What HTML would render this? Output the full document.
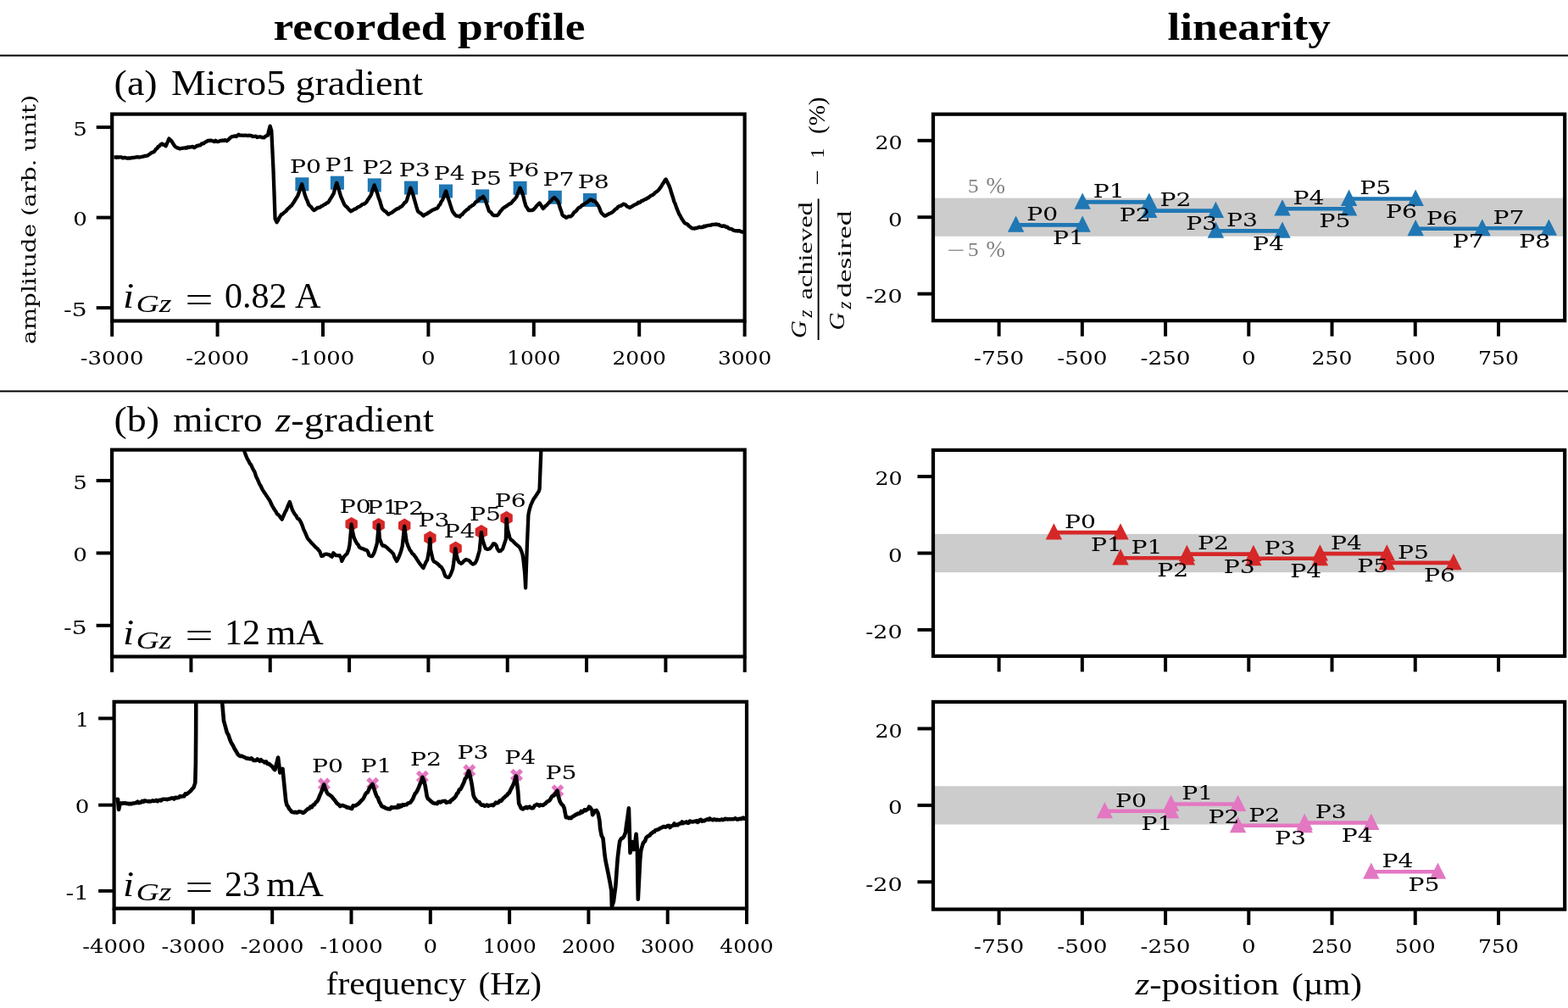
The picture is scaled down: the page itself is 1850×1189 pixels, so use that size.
<!DOCTYPE html>
<html><head><meta charset="utf-8"><title>figure</title><style>html,body{margin:0;padding:0;background:#fff;overflow:hidden;width:1850px;height:1189px;}svg{display:block;}</style></head><body>
<svg width="1850" height="1189" viewBox="0 0 1850 1189">
<rect width="1850" height="1189" fill="#fff"/>
<text x="322.60" y="46.50" font-family='"Liberation Serif", "DejaVu Serif", serif' font-size="47" font-weight="bold" textLength="368.00" lengthAdjust="spacingAndGlyphs">recorded profile</text>
<text x="1377.40" y="47.00" font-family='"Liberation Serif", "DejaVu Serif", serif' font-size="47" font-weight="bold" textLength="192.50" lengthAdjust="spacingAndGlyphs">linearity</text>
<line x1="0.00" y1="65.50" x2="1850.00" y2="65.50" stroke="#000" stroke-width="2.2" stroke-linecap="butt"/>
<line x1="0.00" y1="461.50" x2="1850.00" y2="461.50" stroke="#000" stroke-width="2.2" stroke-linecap="butt"/>
<text x="134.60" y="112.20" font-family='"Liberation Serif", "DejaVu Serif", serif' font-size="41.5" textLength="51.00" lengthAdjust="spacingAndGlyphs">(a)</text>
<text x="202.00" y="112.20" font-family='"Liberation Serif", "DejaVu Serif", serif' font-size="41.5" textLength="297.00" lengthAdjust="spacingAndGlyphs">Micro5 gradient</text>
<text x="134.60" y="509.30" font-family='"Liberation Serif", "DejaVu Serif", serif' font-size="41.5" textLength="53.50" lengthAdjust="spacingAndGlyphs">(b)</text>
<text x="204.20" y="509.30" font-family='"Liberation Serif", "DejaVu Serif", serif' font-size="41.5" textLength="105.50" lengthAdjust="spacingAndGlyphs">micro</text>
<text x="325.0" y="509.3" font-family='"Liberation Serif", "DejaVu Serif", serif' font-size="41.5" textLength="187.0" lengthAdjust="spacingAndGlyphs"><tspan font-style="italic">z</tspan>-gradient</text>
<rect x="132.20" y="134.60" width="746.40" height="243.90" fill="none" stroke="#000" stroke-width="4.2"/>
<line x1="113.70" y1="150.10" x2="132.20" y2="150.10" stroke="#000" stroke-width="4.0" stroke-linecap="butt"/>
<line x1="113.70" y1="256.60" x2="132.20" y2="256.60" stroke="#000" stroke-width="4.0" stroke-linecap="butt"/>
<line x1="113.70" y1="363.10" x2="132.20" y2="363.10" stroke="#000" stroke-width="4.0" stroke-linecap="butt"/>
<text x="86.20" y="159.90" font-family='"DejaVu Serif", "Liberation Serif", serif' font-size="22.0" textLength="16.60" lengthAdjust="spacingAndGlyphs">5</text>
<text x="86.20" y="266.40" font-family='"DejaVu Serif", "Liberation Serif", serif' font-size="22.0" textLength="16.60" lengthAdjust="spacingAndGlyphs">0</text>
<text x="74.90" y="372.90" font-family='"DejaVu Serif", "Liberation Serif", serif' font-size="22.0" textLength="27.90" lengthAdjust="spacingAndGlyphs">-5</text>
<line x1="132.20" y1="378.50" x2="132.20" y2="397.00" stroke="#000" stroke-width="4.0" stroke-linecap="butt"/>
<line x1="256.60" y1="378.50" x2="256.60" y2="397.00" stroke="#000" stroke-width="4.0" stroke-linecap="butt"/>
<line x1="381.00" y1="378.50" x2="381.00" y2="397.00" stroke="#000" stroke-width="4.0" stroke-linecap="butt"/>
<line x1="505.40" y1="378.50" x2="505.40" y2="397.00" stroke="#000" stroke-width="4.0" stroke-linecap="butt"/>
<line x1="629.80" y1="378.50" x2="629.80" y2="397.00" stroke="#000" stroke-width="4.0" stroke-linecap="butt"/>
<line x1="754.20" y1="378.50" x2="754.20" y2="397.00" stroke="#000" stroke-width="4.0" stroke-linecap="butt"/>
<line x1="878.60" y1="378.50" x2="878.60" y2="397.00" stroke="#000" stroke-width="4.0" stroke-linecap="butt"/>
<text x="94.85" y="430.00" font-family='"DejaVu Serif", "Liberation Serif", serif' font-size="22.0" textLength="74.70" lengthAdjust="spacingAndGlyphs">-3000</text>
<text x="219.25" y="430.00" font-family='"DejaVu Serif", "Liberation Serif", serif' font-size="22.0" textLength="74.70" lengthAdjust="spacingAndGlyphs">-2000</text>
<text x="343.65" y="430.00" font-family='"DejaVu Serif", "Liberation Serif", serif' font-size="22.0" textLength="74.70" lengthAdjust="spacingAndGlyphs">-1000</text>
<text x="497.10" y="430.00" font-family='"DejaVu Serif", "Liberation Serif", serif' font-size="22.0" textLength="16.60" lengthAdjust="spacingAndGlyphs">0</text>
<text x="598.10" y="430.00" font-family='"DejaVu Serif", "Liberation Serif", serif' font-size="22.0" textLength="63.40" lengthAdjust="spacingAndGlyphs">1000</text>
<text x="722.50" y="430.00" font-family='"DejaVu Serif", "Liberation Serif", serif' font-size="22.0" textLength="63.40" lengthAdjust="spacingAndGlyphs">2000</text>
<text x="846.90" y="430.00" font-family='"DejaVu Serif", "Liberation Serif", serif' font-size="22.0" textLength="63.40" lengthAdjust="spacingAndGlyphs">3000</text>
<rect x="1101.00" y="233.60" width="745.20" height="45.20" fill="#cccccc"/>
<rect x="1101.00" y="629.90" width="745.20" height="45.20" fill="#cccccc"/>
<rect x="1101.00" y="927.30" width="745.20" height="45.20" fill="#cccccc"/>
<rect x="348.40" y="209.30" width="16" height="16" fill="#1f77b4"/>
<rect x="389.90" y="207.70" width="16" height="16" fill="#1f77b4"/>
<rect x="433.80" y="210.40" width="16" height="16" fill="#1f77b4"/>
<rect x="477.00" y="213.60" width="16" height="16" fill="#1f77b4"/>
<rect x="518.00" y="217.50" width="16" height="16" fill="#1f77b4"/>
<rect x="561.20" y="223.40" width="16" height="16" fill="#1f77b4"/>
<rect x="605.60" y="213.80" width="16" height="16" fill="#1f77b4"/>
<rect x="646.80" y="224.80" width="16" height="16" fill="#1f77b4"/>
<rect x="688.00" y="228.00" width="16" height="16" fill="#1f77b4"/>
<clipPath id="cA"><rect x="132.2" y="134.6" width="746.4000000000001" height="243.9"/></clipPath>
<g clip-path="url(#cA)">
<polyline points="134.4,185.4 135.7,185.4 137.0,185.8 138.3,185.1 139.6,185.7 140.9,185.4 142.2,185.4 143.5,185.5 144.9,186.4 146.2,185.9 147.5,185.9 148.8,186.3 150.1,186.6 151.5,186.3 152.8,186.6 154.1,186.5 155.5,186.0 156.8,186.1 158.2,185.9 159.6,185.5 160.9,185.3 162.3,185.1 163.6,185.5 165.0,185.4 166.5,185.1 167.9,184.7 169.3,184.6 170.8,183.8 172.2,184.0 173.7,183.7 175.2,182.7 176.6,181.8 178.1,180.5 179.8,179.7 181.4,179.4 182.7,177.8 184.0,175.9 185.4,175.0 186.7,173.0 188.0,172.3 189.6,170.4 191.2,169.5 192.7,170.8 194.1,170.6 195.6,172.3 197.5,168.2 199.4,163.5 200.8,165.0 202.2,166.2 203.6,168.3 205.1,170.8 206.5,172.8 207.9,173.7 209.2,174.5 210.6,174.7 212.0,175.5 213.4,175.1 214.7,174.9 216.1,174.6 217.5,174.7 218.8,174.2 220.2,174.7 221.5,173.4 222.9,173.9 224.4,173.4 226.0,173.4 227.5,172.9 229.1,174.2 230.6,173.4 232.1,171.9 233.5,172.0 235.0,171.3 236.4,171.4 237.9,169.5 239.3,169.5 240.6,169.1 241.9,167.7 243.3,167.2 244.6,166.2 245.9,165.7 247.3,166.1 248.7,165.6 250.1,166.1 251.5,166.5 252.9,167.1 254.3,165.8 255.7,166.8 257.1,167.1 258.5,166.7 259.9,165.9 261.4,166.0 262.8,165.5 264.2,166.0 265.6,165.2 267.8,166.2 269.2,165.0 270.5,163.7 271.9,162.4 273.2,161.3 274.6,161.0 276.0,160.8 277.4,160.3 278.9,161.1 280.3,159.5 281.7,158.7 283.1,159.7 284.5,159.7 285.8,159.6 287.2,159.8 288.6,159.6 289.9,159.6 291.3,159.8 292.6,160.0 294.0,159.7 295.3,159.8 296.6,160.0 298.0,161.0 299.3,160.8 300.6,160.8 302.0,160.7 303.3,162.0 304.7,161.7 306.1,161.4 307.4,161.4 308.8,162.1 310.1,161.9 311.5,162.4 313.0,161.1 314.4,160.1 315.9,159.7 317.2,154.0 318.6,148.7 320.3,154.2 322.5,200.1 324.6,258.1 326.5,262.2 327.9,260.1 329.4,257.0 330.8,254.6 332.1,252.9 333.4,252.5 334.7,251.1 336.0,250.1 337.3,249.1 338.6,247.4 339.9,246.2 341.2,245.1 342.5,243.5 343.8,242.7 345.3,240.6 346.8,238.4 348.4,235.6 349.9,233.1 351.4,230.8 353.0,226.2 354.6,221.5 356.2,217.3 358.1,223.8 360.0,230.8 361.4,234.3 362.9,237.7 364.3,241.6 365.8,243.1 367.3,244.3 368.8,246.6 370.3,248.1 371.8,247.3 373.2,246.2 374.7,245.0 376.1,245.0 377.6,244.6 379.0,243.2 380.5,242.7 381.8,241.8 383.1,241.0 384.4,240.6 385.7,239.3 387.0,238.9 388.3,237.2 389.6,234.7 390.9,233.0 392.2,230.7 393.5,228.6 395.4,222.1 397.3,215.7 398.9,220.6 400.6,226.3 402.2,231.9 403.6,235.0 405.1,238.6 406.5,241.6 408.0,243.2 409.5,244.4 411.1,246.3 412.6,248.0 414.1,249.2 415.5,248.4 416.9,247.5 418.3,246.7 419.6,246.4 421.0,245.5 422.4,244.2 423.8,243.8 425.2,243.0 426.7,241.8 428.1,240.8 429.5,240.6 431.0,239.6 432.4,238.4 433.7,236.0 435.1,234.1 436.5,232.1 437.8,229.7 439.7,223.8 441.6,218.4 443.5,223.5 445.4,228.6 446.7,233.2 448.1,236.6 449.5,241.7 450.8,245.9 452.3,247.6 453.8,248.9 455.4,249.7 456.9,251.7 458.4,253.0 459.9,251.7 461.4,251.2 462.9,250.3 464.4,249.2 465.9,248.1 467.4,247.0 468.9,246.2 470.5,245.8 472.0,244.3 473.5,243.8 474.8,242.5 476.1,240.9 477.4,239.1 478.7,238.6 480.0,236.2 481.4,231.4 482.9,227.2 484.3,221.6 485.7,225.1 487.2,229.1 488.6,234.1 490.1,239.5 491.5,244.4 493.0,249.2 494.3,250.2 495.6,251.3 496.9,251.8 498.2,253.3 499.5,254.6 500.9,253.3 502.4,252.7 503.8,252.2 505.2,251.0 506.7,250.2 508.1,249.2 509.5,248.2 510.9,247.6 512.3,247.1 513.7,246.2 515.1,246.1 516.5,244.9 517.9,242.4 519.2,241.2 520.5,238.0 521.9,236.2 523.3,233.0 524.8,228.7 526.2,225.4 528.1,231.9 530.0,237.3 531.9,243.3 533.8,249.2 535.2,251.1 536.7,253.1 538.1,254.6 539.5,254.7 541.0,255.0 542.4,255.7 543.9,253.5 545.3,253.2 546.8,251.1 548.2,249.7 549.7,248.4 551.1,247.0 552.5,246.6 554.0,244.2 555.4,243.8 556.8,242.5 558.3,241.8 559.7,240.5 561.0,238.6 562.3,237.8 563.6,237.0 564.9,235.9 566.2,234.1 568.1,233.6 570.0,231.9 571.4,233.8 572.7,236.2 574.1,240.6 575.6,244.8 577.0,249.2 578.4,249.9 579.7,251.1 581.0,253.1 582.4,254.1 583.9,254.2 585.3,254.1 586.8,254.1 588.4,252.5 590.0,249.6 591.6,248.1 593.2,245.9 594.6,245.0 595.9,244.0 597.3,243.3 598.7,242.2 600.0,241.3 601.4,240.4 602.7,240.0 604.1,238.4 605.5,236.7 606.8,235.5 608.2,233.7 609.5,231.9 610.9,228.3 612.2,225.3 613.6,221.6 615.3,225.3 617.0,229.7 618.6,236.6 620.3,242.7 621.9,245.1 623.5,248.1 624.9,247.8 626.2,248.0 627.5,248.0 628.9,247.6 630.3,246.3 631.8,244.6 633.2,242.7 634.9,241.0 636.5,239.5 637.9,241.3 639.4,244.0 640.8,246.0 642.1,244.8 643.4,243.1 644.7,242.4 646.0,240.9 647.3,239.5 648.7,237.9 650.1,237.1 651.5,235.1 652.9,234.0 654.3,233.0 656.2,235.3 658.1,237.3 659.5,240.8 660.8,245.4 662.2,249.0 663.5,253.5 664.9,254.9 666.4,255.4 667.8,256.8 669.1,256.4 670.4,255.4 671.7,255.4 673.0,255.4 674.3,254.6 675.8,253.0 677.3,250.5 678.9,249.7 680.4,248.0 681.9,245.9 683.4,244.7 684.9,244.2 686.5,242.3 688.0,241.6 689.5,240.5 691.1,239.7 692.7,238.6 694.3,237.3 695.9,235.7 697.2,235.7 698.5,235.9 699.8,237.1 701.1,236.9 702.4,237.8 704.1,240.1 705.8,242.5 707.1,245.0 708.4,248.7 709.7,251.3 711.7,253.3 713.6,254.7 715.1,254.2 716.5,253.2 718.0,252.5 719.5,251.7 720.9,251.2 722.4,250.3 723.8,249.1 725.1,247.9 726.5,246.4 727.8,245.9 729.2,244.0 730.8,243.2 732.4,242.8 733.9,241.9 735.5,240.6 737.0,241.2 738.4,241.8 739.9,243.7 741.3,244.0 742.8,245.0 744.1,244.3 745.4,243.5 746.7,243.0 748.0,241.8 749.3,241.5 750.6,240.7 751.9,240.2 753.2,238.6 754.5,239.1 755.8,238.2 757.1,236.8 758.4,236.7 759.7,235.7 761.0,235.2 762.3,234.7 763.6,233.7 764.9,233.4 766.2,232.2 767.5,231.1 768.8,230.4 770.1,229.9 771.6,228.8 773.2,227.0 774.7,226.1 776.3,224.8 777.8,223.1 779.1,221.4 780.4,219.6 781.7,217.2 783.0,215.3 784.3,213.1 785.6,211.4 787.5,215.1 789.5,219.2 791.0,223.3 792.4,228.3 793.9,232.7 795.3,237.7 796.8,240.9 798.2,245.1 799.7,248.8 801.2,252.3 802.6,254.6 804.1,257.6 805.6,259.9 807.0,262.0 808.4,263.4 809.8,263.9 811.2,264.6 812.6,266.4 814.0,267.3 815.4,268.5 816.8,269.3 818.2,269.3 819.6,269.5 821.0,268.8 822.3,269.0 823.7,268.3 825.1,267.6 826.5,268.3 827.9,267.8 829.3,268.1 830.7,266.7 832.0,267.3 833.4,266.3 834.8,266.1 836.2,265.9 837.7,265.7 839.1,265.5 840.6,264.8 842.1,264.9 843.5,264.8 845.0,264.4 846.5,265.0 847.9,264.8 849.4,265.9 850.8,266.4 852.2,266.9 853.7,266.4 855.2,266.6 856.6,267.8 858.1,267.7 859.5,269.2 861.0,269.9 862.5,270.0 863.9,270.5 865.4,271.7 866.8,272.0 868.2,272.4 869.6,272.2 870.9,272.6 872.3,272.1 873.7,273.0 875.1,273.5 876.5,273.6 878.0,273.5" fill="none" stroke="#000" stroke-width="4.3" stroke-linejoin="round" stroke-linecap="butt"/>
</g>
<text x="342.10" y="203.50" font-family='"DejaVu Serif", "Liberation Serif", serif' font-size="21.8" textLength="37.00" lengthAdjust="spacingAndGlyphs">P0</text>
<text x="383.60" y="201.90" font-family='"DejaVu Serif", "Liberation Serif", serif' font-size="21.8" textLength="37.00" lengthAdjust="spacingAndGlyphs">P1</text>
<text x="427.50" y="204.60" font-family='"DejaVu Serif", "Liberation Serif", serif' font-size="21.8" textLength="37.00" lengthAdjust="spacingAndGlyphs">P2</text>
<text x="470.70" y="207.80" font-family='"DejaVu Serif", "Liberation Serif", serif' font-size="21.8" textLength="37.00" lengthAdjust="spacingAndGlyphs">P3</text>
<text x="511.70" y="211.70" font-family='"DejaVu Serif", "Liberation Serif", serif' font-size="21.8" textLength="37.00" lengthAdjust="spacingAndGlyphs">P4</text>
<text x="554.90" y="217.60" font-family='"DejaVu Serif", "Liberation Serif", serif' font-size="21.8" textLength="37.00" lengthAdjust="spacingAndGlyphs">P5</text>
<text x="599.30" y="208.00" font-family='"DejaVu Serif", "Liberation Serif", serif' font-size="21.8" textLength="37.00" lengthAdjust="spacingAndGlyphs">P6</text>
<text x="640.50" y="219.00" font-family='"DejaVu Serif", "Liberation Serif", serif' font-size="21.8" textLength="37.00" lengthAdjust="spacingAndGlyphs">P7</text>
<text x="681.70" y="222.20" font-family='"DejaVu Serif", "Liberation Serif", serif' font-size="21.8" textLength="37.00" lengthAdjust="spacingAndGlyphs">P8</text>
<polygon points="414.70,609.90 407.51,614.05 407.51,622.35 414.70,626.50 421.89,622.35 421.89,614.05" fill="#d62728"/>
<polygon points="446.70,610.90 439.51,615.05 439.51,623.35 446.70,627.50 453.89,623.35 453.89,615.05" fill="#d62728"/>
<polygon points="477.20,611.60 470.01,615.75 470.01,624.05 477.20,628.20 484.39,624.05 484.39,615.75" fill="#d62728"/>
<polygon points="507.40,626.30 500.21,630.45 500.21,638.75 507.40,642.90 514.59,638.75 514.59,630.45" fill="#d62728"/>
<polygon points="537.60,638.60 530.41,642.75 530.41,651.05 537.60,655.20 544.79,651.05 544.79,642.75" fill="#d62728"/>
<polygon points="567.90,619.00 560.71,623.15 560.71,631.45 567.90,635.60 575.09,631.45 575.09,623.15" fill="#d62728"/>
<polygon points="597.60,602.80 590.41,606.95 590.41,615.25 597.60,619.40 604.79,615.25 604.79,606.95" fill="#d62728"/>
<clipPath id="cB1"><rect x="132.1" y="530.6" width="746.6" height="243.89999999999998"/></clipPath>
<g clip-path="url(#cB1)">
<polyline points="286.5,520.0 288.1,531.6 289.7,536.1 291.8,541.2 293.2,543.5 294.7,546.7 296.2,548.3 297.7,551.7 299.1,554.4 300.6,557.0 302.0,561.7 303.5,564.7 304.9,567.8 306.3,571.2 307.8,573.5 309.3,576.8 310.9,579.5 312.3,581.6 313.8,583.7 315.4,586.1 316.8,588.3 318.3,590.5 319.7,593.5 321.1,596.5 322.5,598.9 324.1,601.5 325.4,603.3 326.8,606.1 328.3,607.1 329.8,608.7 331.2,610.8 332.7,612.6 334.0,609.5 335.3,606.6 336.6,603.6 337.9,601.5 339.2,597.9 340.5,595.0 341.8,592.0 343.4,596.7 345.0,601.6 347.0,605.2 348.2,607.0 349.6,608.7 351.0,611.6 352.5,612.0 353.9,614.2 355.1,616.2 356.7,619.9 358.1,624.1 359.3,626.6 360.7,629.7 362.4,633.9 363.7,636.0 365.0,637.4 366.5,639.1 368.1,641.1 369.6,642.6 371.2,644.2 372.7,645.8 374.3,646.9 375.8,648.9 377.1,650.1 379.3,656.0 381.1,655.7 383.0,653.8 384.5,653.6 386.0,653.6 387.5,654.3 388.9,654.5 390.3,656.1 391.8,656.7 393.3,652.3 394.7,653.6 396.3,655.2 397.8,655.1 399.3,655.3 400.7,655.2 402.4,658.2 403.3,661.9 405.8,656.7 407.7,654.8 409.5,653.0 411.4,648.1 412.5,642.7 414.7,618.5 415.9,626.3 417.6,633.9 419.2,637.7 421.3,641.3 422.6,642.5 424.0,645.5 425.7,646.4 427.1,647.2 428.7,647.3 430.2,648.4 431.8,648.7 433.1,649.4 434.5,651.8 435.4,654.9 437.2,656.0 439.2,656.0 440.8,653.3 441.9,650.8 444.8,641.2 445.8,630.7 446.7,619.2 447.3,627.0 447.9,635.3 450.7,642.7 452.0,643.9 453.6,643.6 455.1,644.9 456.7,646.0 458.3,647.8 459.8,649.0 461.2,650.3 462.5,651.6 464.1,653.4 465.5,657.4 466.8,659.5 468.1,661.9 469.8,658.8 471.3,655.2 473.2,649.9 474.7,644.2 477.2,620.7 478.3,629.7 479.9,639.8 481.4,643.8 483.5,648.6 484.8,650.1 486.4,653.0 487.9,653.9 489.4,656.0 490.9,658.1 492.3,660.3 493.8,662.6 495.2,664.7 496.6,666.5 498.0,668.3 499.4,670.0 501.1,666.4 502.8,662.6 504.2,660.4 506.3,648.1 507.4,635.4 508.0,648.3 510.8,660.4 512.2,662.5 514.1,663.4 515.9,664.8 517.4,666.0 519.0,667.8 520.5,668.6 521.8,670.7 523.2,673.2 524.2,676.5 525.5,679.7 527.7,681.0 529.5,681.1 531.0,678.9 532.1,676.6 534.1,671.3 535.1,664.8 537.3,647.1 538.4,654.0 540.2,660.4 541.7,663.3 543.9,664.8 545.5,663.9 546.8,662.2 548.3,661.1 549.8,660.0 551.3,660.5 552.8,660.9 554.2,661.9 556.0,664.3 557.9,665.5 560.2,664.5 561.8,662.1 563.0,658.9 565.7,649.5 566.8,638.4 567.9,628.0 569.4,636.6 571.8,644.2 573.0,647.1 574.8,647.9 576.4,647.7 577.8,647.2 579.2,645.7 580.6,643.9 581.9,641.5 583.6,641.3 585.7,643.6 586.7,647.3 588.8,650.1 590.5,649.9 592.0,648.5 593.2,647.1 596.8,636.2 597.2,623.2 597.6,611.8 598.7,623.8 601.3,633.9 602.5,636.2 603.9,637.3 605.6,638.6 607.2,640.5 608.7,641.8 610.3,643.2 611.8,644.4 613.1,645.7 615.3,650.4 616.6,654.6 617.5,660.4 619.2,676.5 620.1,693.5 621.9,642.7 623.4,607.4 624.5,601.9 626.3,595.6 627.6,592.9 629.1,589.5 630.8,587.1 632.6,584.3 634.2,581.8 635.6,579.8 636.6,576.5 638.8,520.0" fill="none" stroke="#000" stroke-width="4.3" stroke-linejoin="round" stroke-linecap="butt"/>
</g>
<text x="400.80" y="604.90" font-family='"DejaVu Serif", "Liberation Serif", serif' font-size="21.8" textLength="37.00" lengthAdjust="spacingAndGlyphs">P0</text>
<text x="432.80" y="605.90" font-family='"DejaVu Serif", "Liberation Serif", serif' font-size="21.8" textLength="37.00" lengthAdjust="spacingAndGlyphs">P1</text>
<text x="463.30" y="606.60" font-family='"DejaVu Serif", "Liberation Serif", serif' font-size="21.8" textLength="37.00" lengthAdjust="spacingAndGlyphs">P2</text>
<text x="493.50" y="621.30" font-family='"DejaVu Serif", "Liberation Serif", serif' font-size="21.8" textLength="37.00" lengthAdjust="spacingAndGlyphs">P3</text>
<text x="523.70" y="633.60" font-family='"DejaVu Serif", "Liberation Serif", serif' font-size="21.8" textLength="37.00" lengthAdjust="spacingAndGlyphs">P4</text>
<text x="554.00" y="614.00" font-family='"DejaVu Serif", "Liberation Serif", serif' font-size="21.8" textLength="37.00" lengthAdjust="spacingAndGlyphs">P5</text>
<text x="583.70" y="597.80" font-family='"DejaVu Serif", "Liberation Serif", serif' font-size="21.8" textLength="37.00" lengthAdjust="spacingAndGlyphs">P6</text>
<polygon points="386.17,917.36 389.94,921.13 386.17,924.90 389.94,928.67 386.17,932.44 382.40,928.67 378.63,932.44 374.86,928.67 378.63,924.90 374.86,921.13 378.63,917.36 382.40,921.13" fill="#e377c2"/>
<polygon points="443.47,916.76 447.24,920.53 443.47,924.30 447.24,928.07 443.47,931.84 439.70,928.07 435.93,931.84 432.16,928.07 435.93,924.30 432.16,920.53 435.93,916.76 439.70,920.53" fill="#e377c2"/>
<polygon points="502.17,908.66 505.94,912.43 502.17,916.20 505.94,919.97 502.17,923.74 498.40,919.97 494.63,923.74 490.86,919.97 494.63,916.20 490.86,912.43 494.63,908.66 498.40,912.43" fill="#e377c2"/>
<polygon points="557.57,901.36 561.34,905.13 557.57,908.90 561.34,912.67 557.57,916.44 553.80,912.67 550.03,916.44 546.26,912.67 550.03,908.90 546.26,905.13 550.03,901.36 553.80,905.13" fill="#e377c2"/>
<polygon points="613.27,906.76 617.04,910.53 613.27,914.30 617.04,918.07 613.27,921.84 609.50,918.07 605.73,921.84 601.96,918.07 605.73,914.30 601.96,910.53 605.73,906.76 609.50,910.53" fill="#e377c2"/>
<polygon points="661.67,925.16 665.44,928.93 661.67,932.70 665.44,936.47 661.67,940.24 657.90,936.47 654.13,940.24 650.36,936.47 654.13,932.70 650.36,928.93 654.13,925.16 657.90,928.93" fill="#e377c2"/>
<clipPath id="cB2"><rect x="134.6" y="827.8" width="746.4" height="243.79999999999995"/></clipPath>
<g clip-path="url(#cB2)">
<polyline points="136.5,943.0 139.0,942.8 140.1,955.0 141.6,948.2 142.7,947.4 144.0,947.7 145.4,947.3 146.9,947.5 148.3,947.3 149.7,947.9 151.1,947.7 152.5,948.4 153.9,947.9 155.3,948.2 156.7,947.5 158.1,947.5 159.5,947.1 160.9,947.0 162.3,945.6 163.7,947.1 165.0,946.6 166.4,946.4 167.8,944.8 169.2,945.7 170.6,944.4 172.0,944.9 173.4,945.0 174.7,945.4 176.1,945.1 177.5,945.4 178.9,944.9 180.3,944.3 181.7,944.8 183.1,944.7 184.4,943.8 185.8,945.2 187.2,944.2 188.6,943.7 190.0,944.3 191.4,943.0 192.8,942.7 194.2,942.8 195.6,942.8 197.0,943.1 198.4,942.5 199.8,942.5 201.2,941.9 202.6,941.4 204.0,941.5 205.3,942.4 206.7,940.8 208.1,941.1 209.6,940.9 211.1,940.7 212.5,939.1 214.0,939.6 215.4,939.1 217.1,939.3 218.7,936.3 220.3,936.7 222.0,935.3 223.6,934.1 225.1,932.8 226.9,930.4 228.5,928.9 230.3,923.4 230.9,900.7 231.2,862.9 231.4,800.0 232.7,800.3 234.1,800.0 235.4,799.0 236.8,800.5 238.1,800.4 239.5,800.6 240.8,800.9 242.2,800.2 243.5,800.1 244.9,799.2 246.2,800.4 247.5,799.6 248.9,799.7 250.2,799.2 251.6,799.4 252.9,799.7 254.3,800.8 255.6,798.7 257.0,799.1 258.3,800.2 259.7,800.9 261.0,800.0 261.9,825.5 264.0,850.2 265.6,856.0 267.8,864.1 269.5,867.0 271.5,873.0 273.1,876.6 274.8,879.2 276.6,883.0 278.3,885.7 280.4,889.4 281.9,891.1 283.6,891.9 285.4,891.9 286.8,892.5 288.1,893.1 289.5,893.7 290.9,894.8 292.3,894.6 293.7,894.9 295.2,895.3 296.6,894.3 298.0,895.7 299.4,896.9 300.8,896.9 302.2,896.9 303.7,895.5 305.1,896.6 306.5,897.8 307.9,896.3 309.3,897.7 310.7,898.2 312.3,899.4 313.9,898.4 315.5,901.0 317.0,900.7 318.6,902.2 320.0,903.2 321.5,904.7 322.9,906.7 324.3,908.1 326.2,901.2 328.1,893.5 330.3,911.4 331.9,909.3 333.5,907.0 335.1,923.2 337.3,944.9 338.3,949.1 339.7,951.2 341.6,954.6 342.7,955.6 344.0,957.6 345.4,957.9 347.0,958.4 348.3,957.8 349.7,958.6 351.0,958.4 352.4,957.3 354.1,957.5 355.7,957.7 357.3,958.9 359.0,958.1 360.4,956.8 361.8,955.2 363.2,954.1 364.7,954.0 366.3,951.6 367.9,952.2 369.4,949.5 370.8,949.2 372.4,946.8 373.8,945.6 375.1,943.7 376.2,941.2 377.3,938.4 379.1,934.4 380.7,929.9 382.2,925.4 383.7,930.5 385.9,935.1 387.1,936.7 388.5,937.3 390.0,938.6 391.4,939.5 392.9,941.6 394.3,943.1 395.7,944.9 397.0,947.0 398.4,948.3 400.0,949.2 401.2,951.0 402.5,950.3 403.8,950.0 405.2,950.3 406.5,950.8 407.9,951.3 409.3,952.5 410.7,952.3 412.1,953.1 413.5,953.0 415.1,953.9 416.6,950.4 418.1,950.5 419.5,950.3 421.1,949.3 422.7,948.2 424.2,946.8 425.7,945.0 427.0,943.8 428.5,942.2 429.8,939.7 431.1,937.0 432.4,935.1 433.8,934.6 435.2,931.2 436.6,928.6 438.1,926.9 439.5,924.9 441.3,930.4 443.2,936.2 444.5,939.5 445.9,941.1 447.6,946.0 448.8,947.8 450.2,950.8 451.9,951.9 453.2,951.9 454.7,953.2 456.2,953.5 457.6,954.2 459.0,954.1 460.4,954.4 461.8,952.1 463.2,952.7 464.6,952.5 466.0,952.4 467.3,952.5 468.7,952.6 470.0,949.8 471.3,952.0 472.6,950.0 474.0,951.0 475.3,949.2 476.5,949.8 477.8,949.2 479.4,949.3 481.1,947.7 482.6,947.1 484.1,946.6 485.4,944.9 487.2,942.3 488.4,939.1 489.7,936.2 491.2,934.7 492.7,931.9 494.1,928.6 495.7,924.5 497.0,922.5 498.4,916.8 500.1,920.9 501.6,926.5 503.8,939.5 504.9,942.1 506.4,943.2 508.1,944.9 509.5,946.0 511.0,947.3 512.6,947.6 514.3,947.8 515.6,948.1 516.9,946.2 518.2,945.7 519.5,946.5 520.8,945.7 522.2,945.0 523.7,945.0 525.2,944.9 526.6,946.8 528.1,946.4 529.5,945.7 531.0,946.1 532.3,943.8 533.7,943.5 534.9,941.8 536.0,941.4 537.7,939.2 539.2,935.9 540.5,935.0 541.8,931.5 543.2,931.1 544.5,928.8 545.7,926.2 547.4,922.8 548.9,918.3 550.3,917.2 551.7,912.8 553.2,909.5 554.9,916.4 556.5,924.1 558.6,938.1 559.6,940.5 560.9,942.5 562.4,945.0 564.1,945.7 565.5,946.2 567.1,948.7 568.7,949.8 570.5,949.5 571.9,950.7 573.3,949.9 574.7,949.6 576.1,950.7 577.5,950.0 578.9,949.8 580.3,949.5 581.9,950.1 583.4,948.6 584.9,946.7 586.4,947.3 587.8,946.8 589.5,944.5 591.0,945.0 592.5,943.3 594.0,941.3 595.4,940.3 596.8,938.9 598.2,938.0 599.5,936.0 600.8,935.2 601.9,932.7 603.6,929.4 605.1,926.7 606.4,923.4 607.6,919.9 608.9,915.4 611.1,932.7 612.2,947.8 613.3,950.0 614.8,953.4 617.0,954.3 618.3,953.1 619.6,953.2 620.9,951.9 622.2,953.2 623.5,952.2 624.9,951.6 626.3,952.9 627.6,953.2 628.9,953.2 631.1,950.0 632.3,949.5 633.6,948.9 635.0,949.4 636.4,950.5 637.8,949.4 639.2,949.8 640.6,949.9 641.9,948.9 643.6,947.8 645.2,945.9 646.7,945.0 648.1,944.6 649.5,942.4 650.9,939.8 652.3,938.9 653.6,938.3 655.0,936.5 656.3,934.3 657.6,932.7 658.9,939.8 660.8,945.7 662.4,948.4 664.2,949.9 665.7,953.2 667.8,964.1 669.3,963.9 671.1,965.1 672.5,964.5 673.9,965.1 675.2,963.6 676.6,962.8 677.9,962.1 679.1,960.9 680.4,961.0 681.7,959.6 683.0,959.7 684.4,959.3 685.7,956.9 687.1,958.0 688.4,956.7 689.8,955.1 691.1,956.2 692.5,954.8 693.8,954.3 695.1,951.7 696.5,952.7 698.5,955.7 699.1,961.1 700.5,959.1 701.8,956.5 703.7,955.9 705.6,959.1 707.4,968.2 708.1,977.0 709.6,985.2 711.5,989.1 713.5,1008.7 714.7,1016.3 716.1,1023.0 718.0,1032.3 719.9,1042.1 721.3,1050.4 721.9,1069.3 723.9,1063.4 726.4,1044.4 727.8,1024.3 728.8,1011.5 730.4,998.2 731.3,992.1 733.0,989.1 734.7,988.4 736.3,986.5 738.1,981.7 738.9,974.8 740.5,963.8 741.9,953.2 743.5,1006.0 744.8,999.2 746.1,993.0 748.0,1002.1 749.3,994.3 750.6,983.9 751.9,1002.1 752.8,1060.8 755.2,1013.9 756.2,1003.5 758.4,995.6 759.5,993.4 760.9,992.4 762.5,988.0 764.3,986.5 765.5,985.8 766.7,985.4 768.0,983.1 769.4,982.6 770.8,981.3 772.0,981.1 773.3,979.2 774.6,979.0 775.9,978.6 777.2,978.3 778.6,977.1 779.9,976.5 781.3,976.1 782.6,975.0 783.8,975.1 785.1,975.7 786.4,974.9 787.8,974.1 789.1,973.9 790.4,976.0 791.7,974.7 793.0,974.2 794.3,973.5 795.6,971.5 796.9,973.3 798.2,972.8 799.5,973.2 800.8,972.0 802.1,971.4 803.4,971.4 804.7,969.5 806.0,971.1 807.3,970.2 808.6,970.2 809.9,969.4 811.2,970.6 812.5,970.7 813.8,968.6 815.2,968.9 816.5,969.5 817.8,969.3 819.1,968.8 820.4,968.9 821.7,968.1 823.0,969.9 824.3,969.0 825.6,967.3 826.9,966.9 828.2,968.7 829.5,968.0 830.8,968.4 832.1,967.5 833.4,966.9 834.7,966.3 836.0,967.0 837.3,965.4 838.6,966.3 839.9,966.8 841.3,967.2 842.6,966.4 843.9,966.8 845.2,967.2 846.5,966.9 847.8,967.1 849.1,967.2 850.4,966.9 851.7,966.5 853.0,967.1 854.3,966.6 855.6,965.9 856.9,966.0 858.2,966.4 859.5,966.3 860.8,966.2 862.2,966.3 863.5,966.2 864.9,966.2 866.2,966.0 867.6,965.2 868.9,966.2 870.2,966.6 871.6,966.2 872.9,965.7 874.3,966.1 875.6,965.1 877.0,964.5 878.3,965.7 879.7,965.0 881.0,965.6" fill="none" stroke="#000" stroke-width="4.6" stroke-linejoin="round" stroke-linecap="butt"/>
</g>
<text x="368.10" y="911.40" font-family='"DejaVu Serif", "Liberation Serif", serif' font-size="21.8" textLength="37.00" lengthAdjust="spacingAndGlyphs">P0</text>
<text x="425.40" y="910.80" font-family='"DejaVu Serif", "Liberation Serif", serif' font-size="21.8" textLength="37.00" lengthAdjust="spacingAndGlyphs">P1</text>
<text x="484.10" y="902.70" font-family='"DejaVu Serif", "Liberation Serif", serif' font-size="21.8" textLength="37.00" lengthAdjust="spacingAndGlyphs">P2</text>
<text x="539.50" y="895.40" font-family='"DejaVu Serif", "Liberation Serif", serif' font-size="21.8" textLength="37.00" lengthAdjust="spacingAndGlyphs">P3</text>
<text x="595.20" y="900.80" font-family='"DejaVu Serif", "Liberation Serif", serif' font-size="21.8" textLength="37.00" lengthAdjust="spacingAndGlyphs">P4</text>
<text x="643.60" y="919.20" font-family='"DejaVu Serif", "Liberation Serif", serif' font-size="21.8" textLength="37.00" lengthAdjust="spacingAndGlyphs">P5</text>
<line x1="1198.60" y1="265.40" x2="1277.20" y2="265.40" stroke="#1f77b4" stroke-width="4.6" stroke-linecap="butt"/>
<polygon points="1198.60,254.50 1188.90,273.80 1208.30,273.80" fill="#1f77b4"/>
<polygon points="1277.20,254.50 1267.50,273.80 1286.90,273.80" fill="#1f77b4"/>
<line x1="1277.20" y1="238.40" x2="1355.80" y2="238.40" stroke="#1f77b4" stroke-width="4.6" stroke-linecap="butt"/>
<polygon points="1277.20,227.50 1267.50,246.80 1286.90,246.80" fill="#1f77b4"/>
<polygon points="1355.80,227.50 1346.10,246.80 1365.50,246.80" fill="#1f77b4"/>
<line x1="1355.80" y1="248.60" x2="1434.40" y2="248.60" stroke="#1f77b4" stroke-width="4.6" stroke-linecap="butt"/>
<polygon points="1355.80,237.70 1346.10,257.00 1365.50,257.00" fill="#1f77b4"/>
<polygon points="1434.40,237.70 1424.70,257.00 1444.10,257.00" fill="#1f77b4"/>
<line x1="1434.40" y1="272.40" x2="1513.00" y2="272.40" stroke="#1f77b4" stroke-width="4.6" stroke-linecap="butt"/>
<polygon points="1434.40,261.50 1424.70,280.80 1444.10,280.80" fill="#1f77b4"/>
<polygon points="1513.00,261.50 1503.30,280.80 1522.70,280.80" fill="#1f77b4"/>
<line x1="1513.00" y1="246.20" x2="1591.60" y2="246.20" stroke="#1f77b4" stroke-width="4.6" stroke-linecap="butt"/>
<polygon points="1513.00,235.30 1503.30,254.60 1522.70,254.60" fill="#1f77b4"/>
<polygon points="1591.60,235.30 1581.90,254.60 1601.30,254.60" fill="#1f77b4"/>
<line x1="1591.60" y1="234.50" x2="1670.20" y2="234.50" stroke="#1f77b4" stroke-width="4.6" stroke-linecap="butt"/>
<polygon points="1591.60,223.60 1581.90,242.90 1601.30,242.90" fill="#1f77b4"/>
<polygon points="1670.20,223.60 1660.50,242.90 1679.90,242.90" fill="#1f77b4"/>
<line x1="1670.20" y1="269.80" x2="1748.80" y2="269.80" stroke="#1f77b4" stroke-width="4.6" stroke-linecap="butt"/>
<polygon points="1670.20,258.90 1660.50,278.20 1679.90,278.20" fill="#1f77b4"/>
<polygon points="1748.80,258.90 1739.10,278.20 1758.50,278.20" fill="#1f77b4"/>
<line x1="1748.80" y1="269.30" x2="1827.40" y2="269.30" stroke="#1f77b4" stroke-width="4.6" stroke-linecap="butt"/>
<polygon points="1748.80,258.40 1739.10,277.70 1758.50,277.70" fill="#1f77b4"/>
<polygon points="1827.40,258.40 1817.70,277.70 1837.10,277.70" fill="#1f77b4"/>
<text x="1211.20" y="260.10" font-family='"DejaVu Serif", "Liberation Serif", serif' font-size="21.8" textLength="37.00" lengthAdjust="spacingAndGlyphs">P0</text>
<text x="1242.10" y="287.60" font-family='"DejaVu Serif", "Liberation Serif", serif' font-size="21.8" textLength="37.00" lengthAdjust="spacingAndGlyphs">P1</text>
<text x="1289.80" y="233.10" font-family='"DejaVu Serif", "Liberation Serif", serif' font-size="21.8" textLength="37.00" lengthAdjust="spacingAndGlyphs">P1</text>
<text x="1320.70" y="260.60" font-family='"DejaVu Serif", "Liberation Serif", serif' font-size="21.8" textLength="37.00" lengthAdjust="spacingAndGlyphs">P2</text>
<text x="1368.40" y="243.30" font-family='"DejaVu Serif", "Liberation Serif", serif' font-size="21.8" textLength="37.00" lengthAdjust="spacingAndGlyphs">P2</text>
<text x="1399.30" y="270.80" font-family='"DejaVu Serif", "Liberation Serif", serif' font-size="21.8" textLength="37.00" lengthAdjust="spacingAndGlyphs">P3</text>
<text x="1447.00" y="267.10" font-family='"DejaVu Serif", "Liberation Serif", serif' font-size="21.8" textLength="37.00" lengthAdjust="spacingAndGlyphs">P3</text>
<text x="1477.90" y="294.60" font-family='"DejaVu Serif", "Liberation Serif", serif' font-size="21.8" textLength="37.00" lengthAdjust="spacingAndGlyphs">P4</text>
<text x="1525.60" y="240.90" font-family='"DejaVu Serif", "Liberation Serif", serif' font-size="21.8" textLength="37.00" lengthAdjust="spacingAndGlyphs">P4</text>
<text x="1556.50" y="268.40" font-family='"DejaVu Serif", "Liberation Serif", serif' font-size="21.8" textLength="37.00" lengthAdjust="spacingAndGlyphs">P5</text>
<text x="1604.20" y="229.20" font-family='"DejaVu Serif", "Liberation Serif", serif' font-size="21.8" textLength="37.00" lengthAdjust="spacingAndGlyphs">P5</text>
<text x="1635.10" y="256.70" font-family='"DejaVu Serif", "Liberation Serif", serif' font-size="21.8" textLength="37.00" lengthAdjust="spacingAndGlyphs">P6</text>
<text x="1682.80" y="264.50" font-family='"DejaVu Serif", "Liberation Serif", serif' font-size="21.8" textLength="37.00" lengthAdjust="spacingAndGlyphs">P6</text>
<text x="1713.70" y="292.00" font-family='"DejaVu Serif", "Liberation Serif", serif' font-size="21.8" textLength="37.00" lengthAdjust="spacingAndGlyphs">P7</text>
<text x="1761.40" y="264.00" font-family='"DejaVu Serif", "Liberation Serif", serif' font-size="21.8" textLength="37.00" lengthAdjust="spacingAndGlyphs">P7</text>
<text x="1792.30" y="291.50" font-family='"DejaVu Serif", "Liberation Serif", serif' font-size="21.8" textLength="37.00" lengthAdjust="spacingAndGlyphs">P8</text>
<line x1="1243.40" y1="628.10" x2="1322.00" y2="628.10" stroke="#d62728" stroke-width="4.6" stroke-linecap="butt"/>
<polygon points="1243.40,617.20 1233.70,636.50 1253.10,636.50" fill="#d62728"/>
<polygon points="1322.00,617.20 1312.30,636.50 1331.70,636.50" fill="#d62728"/>
<line x1="1322.00" y1="658.20" x2="1400.40" y2="658.20" stroke="#d62728" stroke-width="4.6" stroke-linecap="butt"/>
<polygon points="1322.00,647.30 1312.30,666.60 1331.70,666.60" fill="#d62728"/>
<polygon points="1400.40,647.30 1390.70,666.60 1410.10,666.60" fill="#d62728"/>
<line x1="1400.40" y1="653.60" x2="1478.90" y2="653.60" stroke="#d62728" stroke-width="4.6" stroke-linecap="butt"/>
<polygon points="1400.40,642.70 1390.70,662.00 1410.10,662.00" fill="#d62728"/>
<polygon points="1478.90,642.70 1469.20,662.00 1488.60,662.00" fill="#d62728"/>
<line x1="1478.90" y1="658.80" x2="1557.40" y2="658.80" stroke="#d62728" stroke-width="4.6" stroke-linecap="butt"/>
<polygon points="1478.90,647.90 1469.20,667.20 1488.60,667.20" fill="#d62728"/>
<polygon points="1557.40,647.90 1547.70,667.20 1567.10,667.20" fill="#d62728"/>
<line x1="1557.40" y1="653.10" x2="1636.30" y2="653.10" stroke="#d62728" stroke-width="4.6" stroke-linecap="butt"/>
<polygon points="1557.40,642.20 1547.70,661.50 1567.10,661.50" fill="#d62728"/>
<polygon points="1636.30,642.20 1626.60,661.50 1646.00,661.50" fill="#d62728"/>
<line x1="1636.30" y1="663.90" x2="1715.00" y2="663.90" stroke="#d62728" stroke-width="4.6" stroke-linecap="butt"/>
<polygon points="1636.30,653.00 1626.60,672.30 1646.00,672.30" fill="#d62728"/>
<polygon points="1715.00,653.00 1705.30,672.30 1724.70,672.30" fill="#d62728"/>
<text x="1256.00" y="622.80" font-family='"DejaVu Serif", "Liberation Serif", serif' font-size="21.8" textLength="37.00" lengthAdjust="spacingAndGlyphs">P0</text>
<text x="1286.90" y="650.30" font-family='"DejaVu Serif", "Liberation Serif", serif' font-size="21.8" textLength="37.00" lengthAdjust="spacingAndGlyphs">P1</text>
<text x="1334.60" y="652.90" font-family='"DejaVu Serif", "Liberation Serif", serif' font-size="21.8" textLength="37.00" lengthAdjust="spacingAndGlyphs">P1</text>
<text x="1365.30" y="680.40" font-family='"DejaVu Serif", "Liberation Serif", serif' font-size="21.8" textLength="37.00" lengthAdjust="spacingAndGlyphs">P2</text>
<text x="1413.00" y="648.30" font-family='"DejaVu Serif", "Liberation Serif", serif' font-size="21.8" textLength="37.00" lengthAdjust="spacingAndGlyphs">P2</text>
<text x="1443.80" y="675.80" font-family='"DejaVu Serif", "Liberation Serif", serif' font-size="21.8" textLength="37.00" lengthAdjust="spacingAndGlyphs">P3</text>
<text x="1491.50" y="653.50" font-family='"DejaVu Serif", "Liberation Serif", serif' font-size="21.8" textLength="37.00" lengthAdjust="spacingAndGlyphs">P3</text>
<text x="1522.30" y="681.00" font-family='"DejaVu Serif", "Liberation Serif", serif' font-size="21.8" textLength="37.00" lengthAdjust="spacingAndGlyphs">P4</text>
<text x="1570.00" y="647.80" font-family='"DejaVu Serif", "Liberation Serif", serif' font-size="21.8" textLength="37.00" lengthAdjust="spacingAndGlyphs">P4</text>
<text x="1601.20" y="675.30" font-family='"DejaVu Serif", "Liberation Serif", serif' font-size="21.8" textLength="37.00" lengthAdjust="spacingAndGlyphs">P5</text>
<text x="1648.90" y="658.60" font-family='"DejaVu Serif", "Liberation Serif", serif' font-size="21.8" textLength="37.00" lengthAdjust="spacingAndGlyphs">P5</text>
<text x="1679.90" y="686.10" font-family='"DejaVu Serif", "Liberation Serif", serif' font-size="21.8" textLength="37.00" lengthAdjust="spacingAndGlyphs">P6</text>
<line x1="1303.40" y1="956.80" x2="1381.60" y2="956.80" stroke="#e377c2" stroke-width="4.6" stroke-linecap="butt"/>
<polygon points="1303.40,945.90 1293.70,965.20 1313.10,965.20" fill="#e377c2"/>
<polygon points="1381.60,945.90 1371.90,965.20 1391.30,965.20" fill="#e377c2"/>
<line x1="1381.60" y1="948.50" x2="1460.60" y2="948.50" stroke="#e377c2" stroke-width="4.6" stroke-linecap="butt"/>
<polygon points="1381.60,937.60 1371.90,956.90 1391.30,956.90" fill="#e377c2"/>
<polygon points="1460.60,937.60 1450.90,956.90 1470.30,956.90" fill="#e377c2"/>
<line x1="1460.60" y1="973.80" x2="1539.20" y2="973.80" stroke="#e377c2" stroke-width="4.6" stroke-linecap="butt"/>
<polygon points="1460.60,962.90 1450.90,982.20 1470.30,982.20" fill="#e377c2"/>
<polygon points="1539.20,962.90 1529.50,982.20 1548.90,982.20" fill="#e377c2"/>
<line x1="1539.20" y1="970.50" x2="1617.80" y2="970.50" stroke="#e377c2" stroke-width="4.6" stroke-linecap="butt"/>
<polygon points="1539.20,959.60 1529.50,978.90 1548.90,978.90" fill="#e377c2"/>
<polygon points="1617.80,959.60 1608.10,978.90 1627.50,978.90" fill="#e377c2"/>
<line x1="1617.80" y1="1028.30" x2="1696.50" y2="1028.30" stroke="#e377c2" stroke-width="4.6" stroke-linecap="butt"/>
<polygon points="1617.80,1017.40 1608.10,1036.70 1627.50,1036.70" fill="#e377c2"/>
<polygon points="1696.50,1017.40 1686.80,1036.70 1706.20,1036.70" fill="#e377c2"/>
<text x="1316.00" y="951.50" font-family='"DejaVu Serif", "Liberation Serif", serif' font-size="21.8" textLength="37.00" lengthAdjust="spacingAndGlyphs">P0</text>
<text x="1346.50" y="979.00" font-family='"DejaVu Serif", "Liberation Serif", serif' font-size="21.8" textLength="37.00" lengthAdjust="spacingAndGlyphs">P1</text>
<text x="1394.20" y="943.20" font-family='"DejaVu Serif", "Liberation Serif", serif' font-size="21.8" textLength="37.00" lengthAdjust="spacingAndGlyphs">P1</text>
<text x="1425.50" y="970.70" font-family='"DejaVu Serif", "Liberation Serif", serif' font-size="21.8" textLength="37.00" lengthAdjust="spacingAndGlyphs">P2</text>
<text x="1473.20" y="968.50" font-family='"DejaVu Serif", "Liberation Serif", serif' font-size="21.8" textLength="37.00" lengthAdjust="spacingAndGlyphs">P2</text>
<text x="1504.10" y="996.00" font-family='"DejaVu Serif", "Liberation Serif", serif' font-size="21.8" textLength="37.00" lengthAdjust="spacingAndGlyphs">P3</text>
<text x="1551.80" y="965.20" font-family='"DejaVu Serif", "Liberation Serif", serif' font-size="21.8" textLength="37.00" lengthAdjust="spacingAndGlyphs">P3</text>
<text x="1582.70" y="992.70" font-family='"DejaVu Serif", "Liberation Serif", serif' font-size="21.8" textLength="37.00" lengthAdjust="spacingAndGlyphs">P4</text>
<text x="1630.40" y="1023.00" font-family='"DejaVu Serif", "Liberation Serif", serif' font-size="21.8" textLength="37.00" lengthAdjust="spacingAndGlyphs">P4</text>
<text x="1661.40" y="1050.50" font-family='"DejaVu Serif", "Liberation Serif", serif' font-size="21.8" textLength="37.00" lengthAdjust="spacingAndGlyphs">P5</text>
<text x="1141.90" y="227.30" font-family='"Liberation Serif", "DejaVu Serif", serif' font-size="23.5" textLength="12.60" lengthAdjust="spacingAndGlyphs" fill="#808080">5</text>
<text x="1163.40" y="227.90" font-family='"Liberation Serif", "DejaVu Serif", serif' font-size="27.5" textLength="22.50" lengthAdjust="spacingAndGlyphs" fill="#808080">%</text>
<text x="1141.90" y="302.20" font-family='"Liberation Serif", "DejaVu Serif", serif' font-size="23.5" textLength="12.60" lengthAdjust="spacingAndGlyphs" fill="#808080">5</text>
<text x="1163.40" y="302.80" font-family='"Liberation Serif", "DejaVu Serif", serif' font-size="27.5" textLength="22.50" lengthAdjust="spacingAndGlyphs" fill="#808080">%</text>
<text x="1117.40" y="303.00" font-family='"Liberation Serif", "DejaVu Serif", serif' font-size="24" textLength="21.20" lengthAdjust="spacingAndGlyphs" fill="#808080">−</text>
<rect x="1101.00" y="134.70" width="745.20" height="243.50" fill="none" stroke="#000" stroke-width="4.2"/>
<rect x="132.10" y="530.60" width="746.60" height="243.90" fill="none" stroke="#000" stroke-width="4.2"/>
<rect x="1101.00" y="530.90" width="745.20" height="243.00" fill="none" stroke="#000" stroke-width="4.2"/>
<rect x="134.60" y="827.80" width="746.40" height="243.80" fill="none" stroke="#000" stroke-width="4.2"/>
<rect x="1101.00" y="827.90" width="745.20" height="244.70" fill="none" stroke="#000" stroke-width="4.2"/>
<line x1="1082.50" y1="165.80" x2="1101.00" y2="165.80" stroke="#000" stroke-width="4.0" stroke-linecap="butt"/>
<line x1="1082.50" y1="256.20" x2="1101.00" y2="256.20" stroke="#000" stroke-width="4.0" stroke-linecap="butt"/>
<line x1="1082.50" y1="346.60" x2="1101.00" y2="346.60" stroke="#000" stroke-width="4.0" stroke-linecap="butt"/>
<text x="1032.50" y="176.10" font-family='"DejaVu Serif", "Liberation Serif", serif' font-size="22.0" textLength="32.20" lengthAdjust="spacingAndGlyphs">20</text>
<text x="1048.10" y="266.50" font-family='"DejaVu Serif", "Liberation Serif", serif' font-size="22.0" textLength="16.60" lengthAdjust="spacingAndGlyphs">0</text>
<text x="1021.20" y="356.90" font-family='"DejaVu Serif", "Liberation Serif", serif' font-size="22.0" textLength="43.50" lengthAdjust="spacingAndGlyphs">-20</text>
<line x1="1178.62" y1="378.20" x2="1178.62" y2="396.70" stroke="#000" stroke-width="4.0" stroke-linecap="butt"/>
<line x1="1276.85" y1="378.20" x2="1276.85" y2="396.70" stroke="#000" stroke-width="4.0" stroke-linecap="butt"/>
<line x1="1375.08" y1="378.20" x2="1375.08" y2="396.70" stroke="#000" stroke-width="4.0" stroke-linecap="butt"/>
<line x1="1473.30" y1="378.20" x2="1473.30" y2="396.70" stroke="#000" stroke-width="4.0" stroke-linecap="butt"/>
<line x1="1571.52" y1="378.20" x2="1571.52" y2="396.70" stroke="#000" stroke-width="4.0" stroke-linecap="butt"/>
<line x1="1669.75" y1="378.20" x2="1669.75" y2="396.70" stroke="#000" stroke-width="4.0" stroke-linecap="butt"/>
<line x1="1767.97" y1="378.20" x2="1767.97" y2="396.70" stroke="#000" stroke-width="4.0" stroke-linecap="butt"/>
<text x="1149.08" y="430.00" font-family='"DejaVu Serif", "Liberation Serif", serif' font-size="22.0" textLength="59.10" lengthAdjust="spacingAndGlyphs">-750</text>
<text x="1247.30" y="430.00" font-family='"DejaVu Serif", "Liberation Serif", serif' font-size="22.0" textLength="59.10" lengthAdjust="spacingAndGlyphs">-500</text>
<text x="1345.53" y="430.00" font-family='"DejaVu Serif", "Liberation Serif", serif' font-size="22.0" textLength="59.10" lengthAdjust="spacingAndGlyphs">-250</text>
<text x="1465.00" y="430.00" font-family='"DejaVu Serif", "Liberation Serif", serif' font-size="22.0" textLength="16.60" lengthAdjust="spacingAndGlyphs">0</text>
<text x="1547.62" y="430.00" font-family='"DejaVu Serif", "Liberation Serif", serif' font-size="22.0" textLength="47.80" lengthAdjust="spacingAndGlyphs">250</text>
<text x="1645.85" y="430.00" font-family='"DejaVu Serif", "Liberation Serif", serif' font-size="22.0" textLength="47.80" lengthAdjust="spacingAndGlyphs">500</text>
<text x="1744.07" y="430.00" font-family='"DejaVu Serif", "Liberation Serif", serif' font-size="22.0" textLength="47.80" lengthAdjust="spacingAndGlyphs">750</text>
<line x1="113.60" y1="566.90" x2="132.10" y2="566.90" stroke="#000" stroke-width="4.0" stroke-linecap="butt"/>
<line x1="113.60" y1="652.40" x2="132.10" y2="652.40" stroke="#000" stroke-width="4.0" stroke-linecap="butt"/>
<line x1="113.60" y1="737.80" x2="132.10" y2="737.80" stroke="#000" stroke-width="4.0" stroke-linecap="butt"/>
<text x="86.20" y="576.70" font-family='"DejaVu Serif", "Liberation Serif", serif' font-size="22.0" textLength="16.60" lengthAdjust="spacingAndGlyphs">5</text>
<text x="86.20" y="662.20" font-family='"DejaVu Serif", "Liberation Serif", serif' font-size="22.0" textLength="16.60" lengthAdjust="spacingAndGlyphs">0</text>
<text x="74.90" y="747.60" font-family='"DejaVu Serif", "Liberation Serif", serif' font-size="22.0" textLength="27.90" lengthAdjust="spacingAndGlyphs">-5</text>
<line x1="132.10" y1="774.50" x2="132.10" y2="793.00" stroke="#000" stroke-width="4.0" stroke-linecap="butt"/>
<line x1="225.43" y1="774.50" x2="225.43" y2="793.00" stroke="#000" stroke-width="4.0" stroke-linecap="butt"/>
<line x1="318.75" y1="774.50" x2="318.75" y2="793.00" stroke="#000" stroke-width="4.0" stroke-linecap="butt"/>
<line x1="412.08" y1="774.50" x2="412.08" y2="793.00" stroke="#000" stroke-width="4.0" stroke-linecap="butt"/>
<line x1="505.40" y1="774.50" x2="505.40" y2="793.00" stroke="#000" stroke-width="4.0" stroke-linecap="butt"/>
<line x1="598.73" y1="774.50" x2="598.73" y2="793.00" stroke="#000" stroke-width="4.0" stroke-linecap="butt"/>
<line x1="692.05" y1="774.50" x2="692.05" y2="793.00" stroke="#000" stroke-width="4.0" stroke-linecap="butt"/>
<line x1="785.38" y1="774.50" x2="785.38" y2="793.00" stroke="#000" stroke-width="4.0" stroke-linecap="butt"/>
<line x1="878.70" y1="774.50" x2="878.70" y2="793.00" stroke="#000" stroke-width="4.0" stroke-linecap="butt"/>
<line x1="1082.50" y1="562.10" x2="1101.00" y2="562.10" stroke="#000" stroke-width="4.0" stroke-linecap="butt"/>
<line x1="1082.50" y1="652.50" x2="1101.00" y2="652.50" stroke="#000" stroke-width="4.0" stroke-linecap="butt"/>
<line x1="1082.50" y1="742.90" x2="1101.00" y2="742.90" stroke="#000" stroke-width="4.0" stroke-linecap="butt"/>
<text x="1032.50" y="572.40" font-family='"DejaVu Serif", "Liberation Serif", serif' font-size="22.0" textLength="32.20" lengthAdjust="spacingAndGlyphs">20</text>
<text x="1048.10" y="662.80" font-family='"DejaVu Serif", "Liberation Serif", serif' font-size="22.0" textLength="16.60" lengthAdjust="spacingAndGlyphs">0</text>
<text x="1021.20" y="753.20" font-family='"DejaVu Serif", "Liberation Serif", serif' font-size="22.0" textLength="43.50" lengthAdjust="spacingAndGlyphs">-20</text>
<line x1="1178.62" y1="773.90" x2="1178.62" y2="792.40" stroke="#000" stroke-width="4.0" stroke-linecap="butt"/>
<line x1="1276.85" y1="773.90" x2="1276.85" y2="792.40" stroke="#000" stroke-width="4.0" stroke-linecap="butt"/>
<line x1="1375.08" y1="773.90" x2="1375.08" y2="792.40" stroke="#000" stroke-width="4.0" stroke-linecap="butt"/>
<line x1="1473.30" y1="773.90" x2="1473.30" y2="792.40" stroke="#000" stroke-width="4.0" stroke-linecap="butt"/>
<line x1="1571.52" y1="773.90" x2="1571.52" y2="792.40" stroke="#000" stroke-width="4.0" stroke-linecap="butt"/>
<line x1="1669.75" y1="773.90" x2="1669.75" y2="792.40" stroke="#000" stroke-width="4.0" stroke-linecap="butt"/>
<line x1="1767.97" y1="773.90" x2="1767.97" y2="792.40" stroke="#000" stroke-width="4.0" stroke-linecap="butt"/>
<line x1="116.10" y1="847.40" x2="134.60" y2="847.40" stroke="#000" stroke-width="4.0" stroke-linecap="butt"/>
<line x1="116.10" y1="949.60" x2="134.60" y2="949.60" stroke="#000" stroke-width="4.0" stroke-linecap="butt"/>
<line x1="116.10" y1="1050.90" x2="134.60" y2="1050.90" stroke="#000" stroke-width="4.0" stroke-linecap="butt"/>
<text x="88.70" y="857.20" font-family='"DejaVu Serif", "Liberation Serif", serif' font-size="22.0" textLength="16.60" lengthAdjust="spacingAndGlyphs">1</text>
<text x="88.70" y="959.40" font-family='"DejaVu Serif", "Liberation Serif", serif' font-size="22.0" textLength="16.60" lengthAdjust="spacingAndGlyphs">0</text>
<text x="77.40" y="1060.70" font-family='"DejaVu Serif", "Liberation Serif", serif' font-size="22.0" textLength="27.90" lengthAdjust="spacingAndGlyphs">-1</text>
<line x1="134.60" y1="1071.60" x2="134.60" y2="1090.10" stroke="#000" stroke-width="4.0" stroke-linecap="butt"/>
<line x1="227.90" y1="1071.60" x2="227.90" y2="1090.10" stroke="#000" stroke-width="4.0" stroke-linecap="butt"/>
<line x1="321.20" y1="1071.60" x2="321.20" y2="1090.10" stroke="#000" stroke-width="4.0" stroke-linecap="butt"/>
<line x1="414.50" y1="1071.60" x2="414.50" y2="1090.10" stroke="#000" stroke-width="4.0" stroke-linecap="butt"/>
<line x1="507.80" y1="1071.60" x2="507.80" y2="1090.10" stroke="#000" stroke-width="4.0" stroke-linecap="butt"/>
<line x1="601.10" y1="1071.60" x2="601.10" y2="1090.10" stroke="#000" stroke-width="4.0" stroke-linecap="butt"/>
<line x1="694.40" y1="1071.60" x2="694.40" y2="1090.10" stroke="#000" stroke-width="4.0" stroke-linecap="butt"/>
<line x1="787.70" y1="1071.60" x2="787.70" y2="1090.10" stroke="#000" stroke-width="4.0" stroke-linecap="butt"/>
<line x1="881.00" y1="1071.60" x2="881.00" y2="1090.10" stroke="#000" stroke-width="4.0" stroke-linecap="butt"/>
<text x="97.25" y="1124.00" font-family='"DejaVu Serif", "Liberation Serif", serif' font-size="22.0" textLength="74.70" lengthAdjust="spacingAndGlyphs">-4000</text>
<text x="190.55" y="1124.00" font-family='"DejaVu Serif", "Liberation Serif", serif' font-size="22.0" textLength="74.70" lengthAdjust="spacingAndGlyphs">-3000</text>
<text x="283.85" y="1124.00" font-family='"DejaVu Serif", "Liberation Serif", serif' font-size="22.0" textLength="74.70" lengthAdjust="spacingAndGlyphs">-2000</text>
<text x="377.15" y="1124.00" font-family='"DejaVu Serif", "Liberation Serif", serif' font-size="22.0" textLength="74.70" lengthAdjust="spacingAndGlyphs">-1000</text>
<text x="499.50" y="1124.00" font-family='"DejaVu Serif", "Liberation Serif", serif' font-size="22.0" textLength="16.60" lengthAdjust="spacingAndGlyphs">0</text>
<text x="569.40" y="1124.00" font-family='"DejaVu Serif", "Liberation Serif", serif' font-size="22.0" textLength="63.40" lengthAdjust="spacingAndGlyphs">1000</text>
<text x="662.70" y="1124.00" font-family='"DejaVu Serif", "Liberation Serif", serif' font-size="22.0" textLength="63.40" lengthAdjust="spacingAndGlyphs">2000</text>
<text x="756.00" y="1124.00" font-family='"DejaVu Serif", "Liberation Serif", serif' font-size="22.0" textLength="63.40" lengthAdjust="spacingAndGlyphs">3000</text>
<text x="849.30" y="1124.00" font-family='"DejaVu Serif", "Liberation Serif", serif' font-size="22.0" textLength="63.40" lengthAdjust="spacingAndGlyphs">4000</text>
<line x1="1082.50" y1="859.50" x2="1101.00" y2="859.50" stroke="#000" stroke-width="4.0" stroke-linecap="butt"/>
<line x1="1082.50" y1="949.90" x2="1101.00" y2="949.90" stroke="#000" stroke-width="4.0" stroke-linecap="butt"/>
<line x1="1082.50" y1="1040.30" x2="1101.00" y2="1040.30" stroke="#000" stroke-width="4.0" stroke-linecap="butt"/>
<text x="1032.50" y="869.80" font-family='"DejaVu Serif", "Liberation Serif", serif' font-size="22.0" textLength="32.20" lengthAdjust="spacingAndGlyphs">20</text>
<text x="1048.10" y="960.20" font-family='"DejaVu Serif", "Liberation Serif", serif' font-size="22.0" textLength="16.60" lengthAdjust="spacingAndGlyphs">0</text>
<text x="1021.20" y="1050.60" font-family='"DejaVu Serif", "Liberation Serif", serif' font-size="22.0" textLength="43.50" lengthAdjust="spacingAndGlyphs">-20</text>
<line x1="1178.62" y1="1072.60" x2="1178.62" y2="1091.10" stroke="#000" stroke-width="4.0" stroke-linecap="butt"/>
<line x1="1276.85" y1="1072.60" x2="1276.85" y2="1091.10" stroke="#000" stroke-width="4.0" stroke-linecap="butt"/>
<line x1="1375.08" y1="1072.60" x2="1375.08" y2="1091.10" stroke="#000" stroke-width="4.0" stroke-linecap="butt"/>
<line x1="1473.30" y1="1072.60" x2="1473.30" y2="1091.10" stroke="#000" stroke-width="4.0" stroke-linecap="butt"/>
<line x1="1571.52" y1="1072.60" x2="1571.52" y2="1091.10" stroke="#000" stroke-width="4.0" stroke-linecap="butt"/>
<line x1="1669.75" y1="1072.60" x2="1669.75" y2="1091.10" stroke="#000" stroke-width="4.0" stroke-linecap="butt"/>
<line x1="1767.97" y1="1072.60" x2="1767.97" y2="1091.10" stroke="#000" stroke-width="4.0" stroke-linecap="butt"/>
<text x="1149.08" y="1124.00" font-family='"DejaVu Serif", "Liberation Serif", serif' font-size="22.0" textLength="59.10" lengthAdjust="spacingAndGlyphs">-750</text>
<text x="1247.30" y="1124.00" font-family='"DejaVu Serif", "Liberation Serif", serif' font-size="22.0" textLength="59.10" lengthAdjust="spacingAndGlyphs">-500</text>
<text x="1345.53" y="1124.00" font-family='"DejaVu Serif", "Liberation Serif", serif' font-size="22.0" textLength="59.10" lengthAdjust="spacingAndGlyphs">-250</text>
<text x="1465.00" y="1124.00" font-family='"DejaVu Serif", "Liberation Serif", serif' font-size="22.0" textLength="16.60" lengthAdjust="spacingAndGlyphs">0</text>
<text x="1547.62" y="1124.00" font-family='"DejaVu Serif", "Liberation Serif", serif' font-size="22.0" textLength="47.80" lengthAdjust="spacingAndGlyphs">250</text>
<text x="1645.85" y="1124.00" font-family='"DejaVu Serif", "Liberation Serif", serif' font-size="22.0" textLength="47.80" lengthAdjust="spacingAndGlyphs">500</text>
<text x="1744.07" y="1124.00" font-family='"DejaVu Serif", "Liberation Serif", serif' font-size="22.0" textLength="47.80" lengthAdjust="spacingAndGlyphs">750</text>
<text x="384.60" y="1172.70" font-family='"Liberation Serif", "DejaVu Serif", serif' font-size="38" textLength="165.50" lengthAdjust="spacingAndGlyphs">frequency</text>
<text x="564.60" y="1172.70" font-family='"Liberation Serif", "DejaVu Serif", serif' font-size="38" textLength="74.50" lengthAdjust="spacingAndGlyphs">(Hz)</text>
<text x="1339.5" y="1173" font-family='"Liberation Serif", "DejaVu Serif", serif' font-size="36.5" textLength="169.5" lengthAdjust="spacingAndGlyphs"><tspan font-style="italic">z</tspan>-position</text>
<text x="1524.00" y="1173.00" font-family='"Liberation Serif", "DejaVu Serif", serif' font-size="36.5" textLength="83.00" lengthAdjust="spacingAndGlyphs">(µm)</text>
<text transform="translate(42.0,258.9) rotate(-90)" x="-147" y="0" font-family='"DejaVu Serif", "Liberation Serif", serif' font-size="22.5" textLength="294" lengthAdjust="spacingAndGlyphs">amplitude (arb. unit)</text>
<g transform="rotate(-90)">
<text x="-399.0" y="950.7" font-family='"Liberation Serif", "DejaVu Serif", serif' font-size="26" font-style="italic" textLength="21" lengthAdjust="spacingAndGlyphs">G</text>
<text x="-374.6" y="958.3" font-family='"Liberation Serif", "DejaVu Serif", serif' font-size="23" font-style="italic">z</text>
<text x="-353.4" y="958.3" font-family='"Liberation Serif", "DejaVu Serif", serif' font-size="23" textLength="115.2" lengthAdjust="spacingAndGlyphs">achieved</text>
<line x1="-401" y1="965.6" x2="-234.4" y2="965.6" stroke="#000" stroke-width="1.9"/>
<text x="-389.5" y="996.2" font-family='"Liberation Serif", "DejaVu Serif", serif' font-size="26" font-style="italic" textLength="21" lengthAdjust="spacingAndGlyphs">G</text>
<text x="-364.4" y="1003.7" font-family='"Liberation Serif", "DejaVu Serif", serif' font-size="23" font-style="italic">z</text>
<text x="-351.0" y="1003.7" font-family='"Liberation Serif", "DejaVu Serif", serif' font-size="23" textLength="102.4" lengthAdjust="spacingAndGlyphs">desired</text>
<text x="-218.6" y="972.5" font-family='"Liberation Serif", "DejaVu Serif", serif' font-size="26" textLength="18.6" lengthAdjust="spacingAndGlyphs">−</text>
<text x="-186.6" y="971.8" font-family='"Liberation Serif", "DejaVu Serif", serif' font-size="23.5">1</text>
<text x="-158.0" y="972.6" font-family='"Liberation Serif", "DejaVu Serif", serif' font-size="26.3" textLength="43.5" lengthAdjust="spacingAndGlyphs">(%)</text>
</g>
<text x="145.0" y="363.2" font-family='"Liberation Serif", "DejaVu Serif", serif' font-size="43" font-style="italic" textLength="13.2" lengthAdjust="spacingAndGlyphs">i</text>
<text x="160.5" y="368.2" font-family='"Liberation Serif", "DejaVu Serif", serif' font-size="30" font-style="italic" textLength="42" lengthAdjust="spacingAndGlyphs">Gz</text>
<text x="218.5" y="366.5" font-family='"Liberation Serif", "DejaVu Serif", serif' font-size="43" textLength="33" lengthAdjust="spacingAndGlyphs">=</text>
<text x="265.0" y="363.2" font-family='"Liberation Serif", "DejaVu Serif", serif' font-size="42">0.82</text>
<text x="348.0" y="363.2" font-family='"Liberation Serif", "DejaVu Serif", serif' font-size="42" textLength="30.5" lengthAdjust="spacingAndGlyphs">A</text>
<text x="145.0" y="760.0" font-family='"Liberation Serif", "DejaVu Serif", serif' font-size="43" font-style="italic" textLength="13.2" lengthAdjust="spacingAndGlyphs">i</text>
<text x="160.5" y="765.0" font-family='"Liberation Serif", "DejaVu Serif", serif' font-size="30" font-style="italic" textLength="42" lengthAdjust="spacingAndGlyphs">Gz</text>
<text x="218.5" y="763.3" font-family='"Liberation Serif", "DejaVu Serif", serif' font-size="43" textLength="33" lengthAdjust="spacingAndGlyphs">=</text>
<text x="265.0" y="760.0" font-family='"Liberation Serif", "DejaVu Serif", serif' font-size="42">12</text>
<text x="314.3" y="760.0" font-family='"Liberation Serif", "DejaVu Serif", serif' font-size="42" textLength="67.5" lengthAdjust="spacingAndGlyphs">mA</text>
<text x="145.0" y="1057.0" font-family='"Liberation Serif", "DejaVu Serif", serif' font-size="43" font-style="italic" textLength="13.2" lengthAdjust="spacingAndGlyphs">i</text>
<text x="160.5" y="1062.0" font-family='"Liberation Serif", "DejaVu Serif", serif' font-size="30" font-style="italic" textLength="42" lengthAdjust="spacingAndGlyphs">Gz</text>
<text x="218.5" y="1060.3" font-family='"Liberation Serif", "DejaVu Serif", serif' font-size="43" textLength="33" lengthAdjust="spacingAndGlyphs">=</text>
<text x="265.0" y="1057.0" font-family='"Liberation Serif", "DejaVu Serif", serif' font-size="42">23</text>
<text x="314.3" y="1057.0" font-family='"Liberation Serif", "DejaVu Serif", serif' font-size="42" textLength="67.5" lengthAdjust="spacingAndGlyphs">mA</text>
</svg>
</body></html>
